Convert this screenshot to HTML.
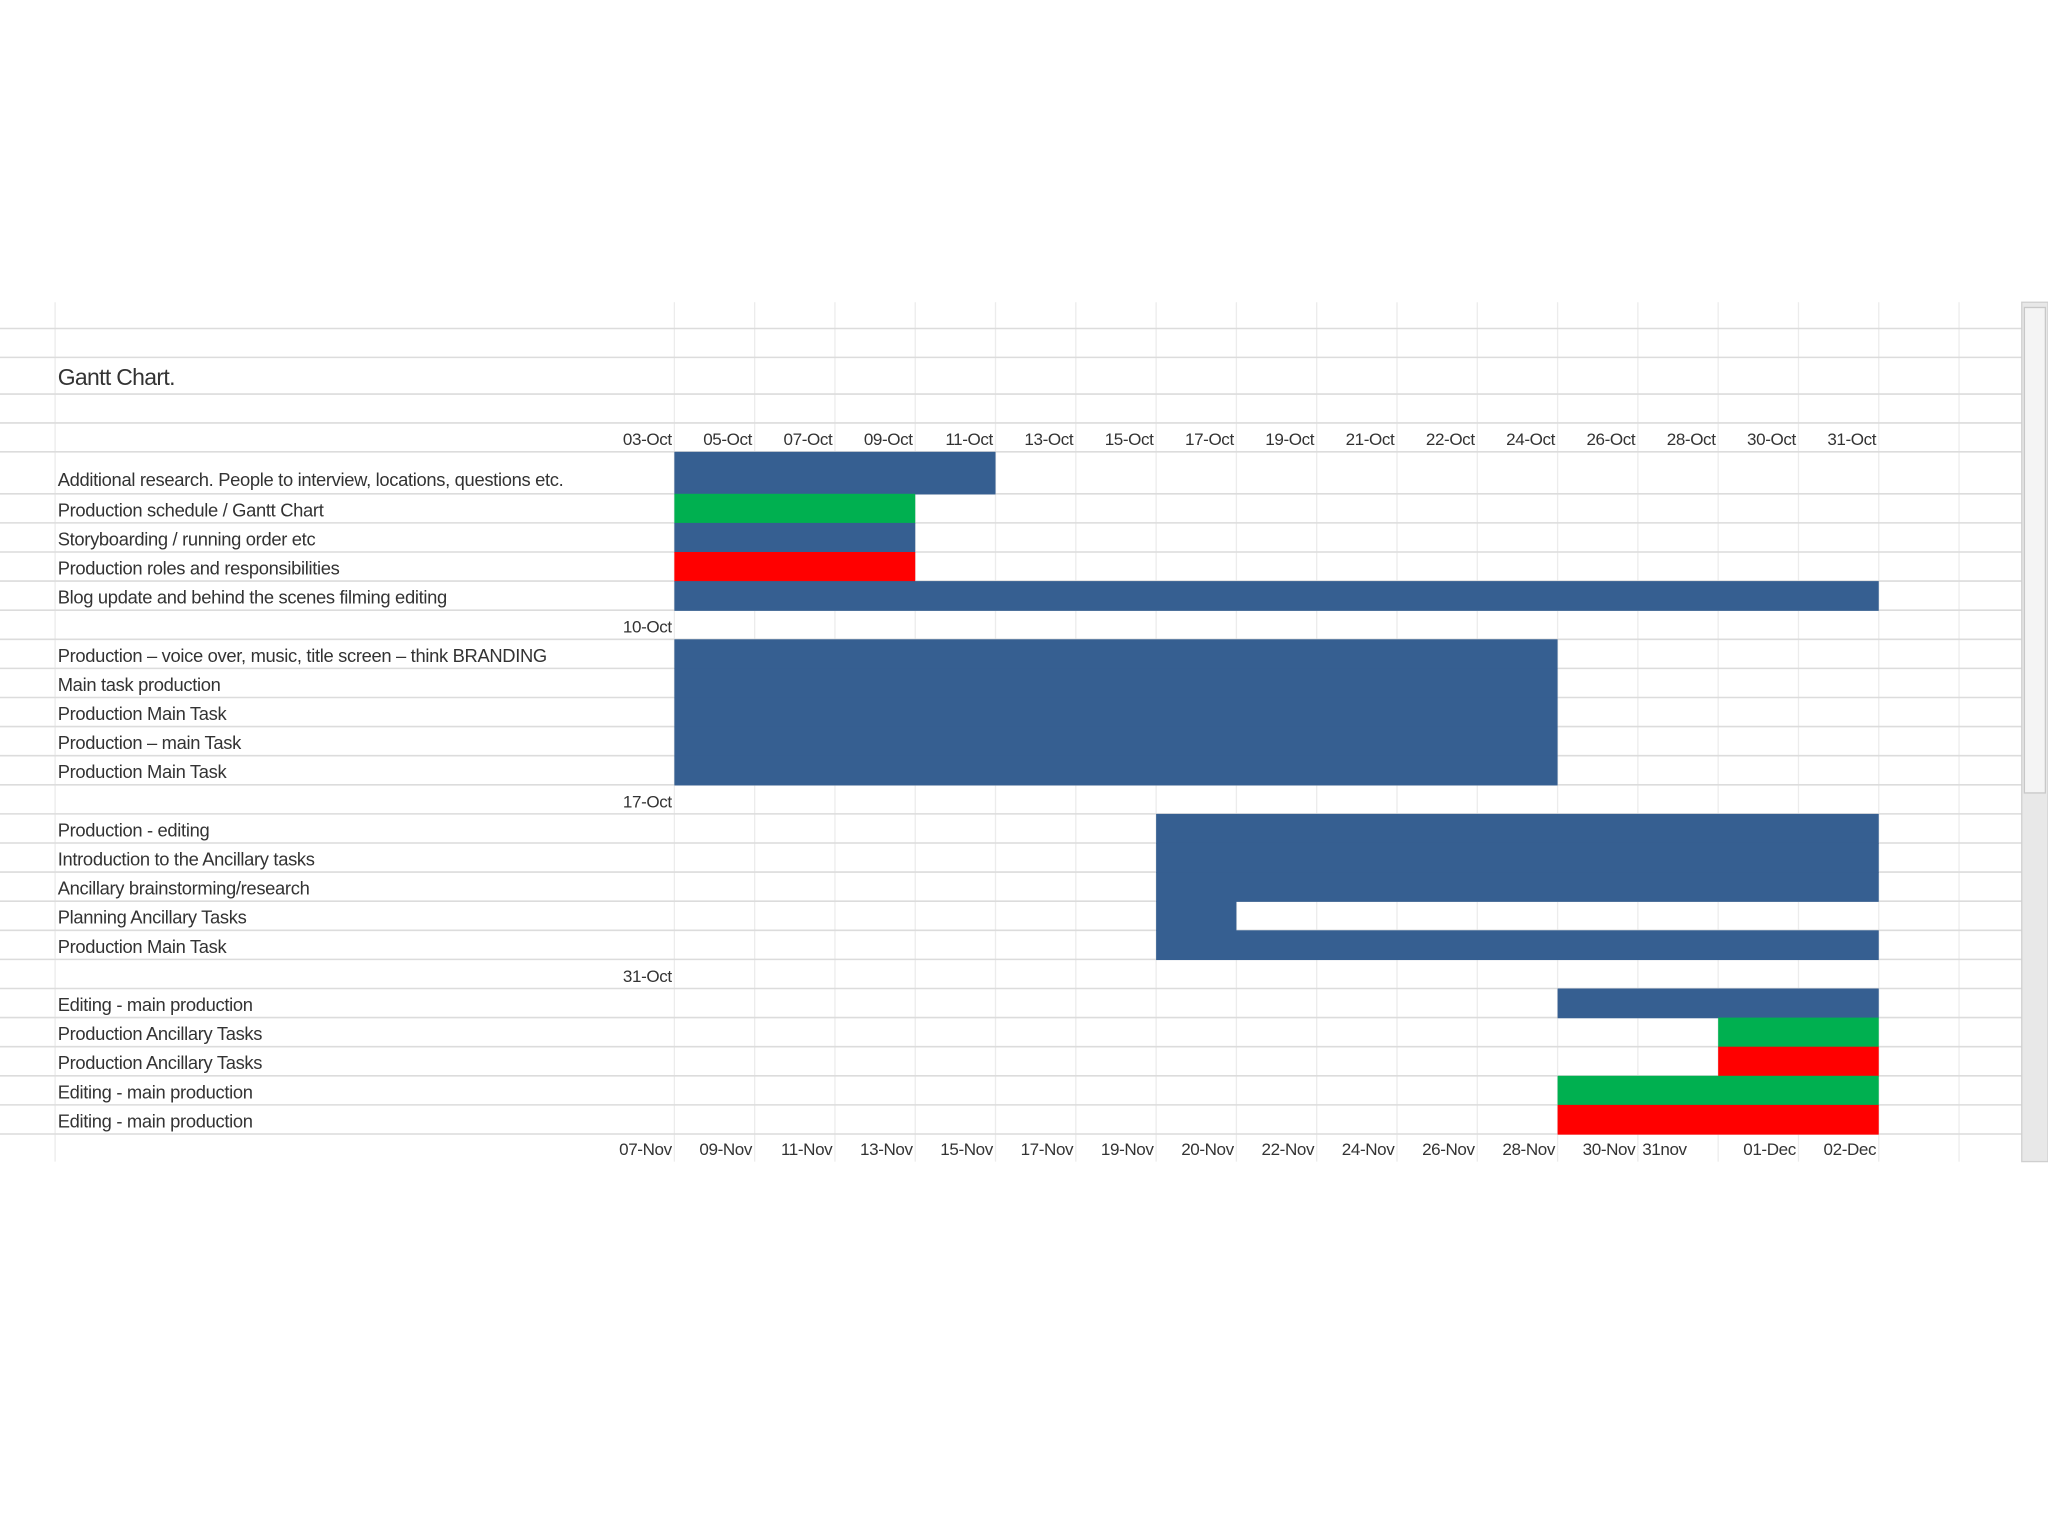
<!DOCTYPE html>
<html><head><meta charset="utf-8"><title>Gantt Chart</title>
<style>
html,body{margin:0;padding:0;background:#fff;}
svg{display:block;}
text{font-family:"Liberation Sans",sans-serif;fill:#333;}
</style></head>
<body>
<svg id="chart" width="2048" height="1536" viewBox="0 0 1561 1170" xmlns="http://www.w3.org/2000/svg">
<rect x="0" y="0" width="1561" height="1170" fill="#fff"/>
<g id="grid"></g>
<g id="bars"></g>
<g id="labels"></g>
<text x="44" y="293" font-size="17.5" letter-spacing="-0.5">Gantt Chart.</text>
<rect x="1541" y="230" width="20" height="655" fill="#e8e8e8" stroke="#cfcfcf"/>
<rect x="1543" y="234" width="16" height="370" fill="#f4f4f4" stroke="#c8c8c8"/>
</svg>
<script>
const topTicks = ["03-Oct","05-Oct","07-Oct","09-Oct","11-Oct","13-Oct","15-Oct","17-Oct","19-Oct","21-Oct","22-Oct","24-Oct","26-Oct","28-Oct","30-Oct","31-Oct"];
const bottomTicks = ["07-Nov","09-Nov","11-Nov","13-Nov","15-Nov","17-Nov","19-Nov","20-Nov","22-Nov","24-Nov","26-Nov","28-Nov","30-Nov","31nov","01-Dec","02-Dec"];
const rowLabels = ["Additional research. People to interview, locations, questions etc.","Production schedule / Gantt Chart","Storyboarding / running order etc","Production roles and responsibilities","Blog update and behind the scenes filming editing","","Production \u2013 voice over, music, title screen \u2013 think BRANDING","Main task production","Production Main Task","Production \u2013 main Task","Production Main Task","","Production - editing","Introduction to the Ancillary tasks","Ancillary brainstorming/research","Planning Ancillary Tasks","Production Main Task","","Editing  - main production","Production Ancillary Tasks","Production Ancillary Tasks","Editing  - main production","Editing  - main production"];
const sectionLabels = [[5,"10-Oct"],[11,"17-Oct"],[17,"31-Oct"]];
// bars: row index, start column, end column, colour key
const barRows   = [0,1,2,3,4,6,7,8,9,10,12,13,14,15,16,18,19,20,21,22];
const barStarts = [0,0,0,0,0,0,0,0,0,0,6,6,6,6,6,11,13,13,11,11];
const barEnds   = [4,3,3,3,15,11,11,11,11,11,15,15,15,7,15,15,15,15,15,15];
const barColors = ["b","g","b","r","b","b","b","b","b","b","b","b","b","b","b","b","g","r","g","r"];

const NS="http://www.w3.org/2000/svg";
const X0=514, COLW=61.2, ROW0=344, ROW0H=32, ROWH=22.18;
const colX = c => X0 + c*COLW;
const rowTop = r => r===0 ? ROW0 : ROW0+ROW0H+(r-1)*ROWH;
const rowH = r => r===0 ? ROW0H : ROWH;
const pal={b:"#365f91",g:"#00b050",r:"#ff0000"};
function mk(tag,attrs,parent){const e=document.createElementNS(NS,tag);for(const k in attrs)e.setAttribute(k,attrs[k]);parent.appendChild(e);return e;}
const grid=document.getElementById('grid'), bars=document.getElementById('bars'), labels=document.getElementById('labels');

[42].concat([...Array(17).keys()].map(colX)).forEach(x=>{
  const l=mk('line',{x1:x,y1:230,x2:x,y2:885,stroke:"#ececec","stroke-width":1},grid);
  
  
});
const hy=[250,272,300,322];
for(let r=0;r<=23;r++) hy.push(rowTop(r));
hy.forEach(y=>{
  const l=mk('line',{x1:0,y1:y,x2:1541,y2:y,stroke:"#dcdcdc","stroke-width":1.2},grid);
  
  
});
barRows.forEach((r,i)=>{
  const x1=colX(barStarts[i]), x2=colX(barEnds[i]);
  const b=mk('rect',{x:x1,y:rowTop(r),width:x2-x1,height:rowH(r)+0.5,fill:pal[barColors[i]]},bars);
  
  
});
topTicks.forEach((t,i)=>{
  const e=mk('text',{x:colX(i)-2,y:339,"font-size":13,"letter-spacing":-0.3,"text-anchor":"end"},labels);
  e.textContent=t;
  
  
});
bottomTicks.forEach((t,i)=>{
  let x=colX(i)-2;
  if(t==="31nov") x=colX(i)-24;
  const e=mk('text',{x:x,y:880,"font-size":13,"letter-spacing":-0.3,"text-anchor":"end"},labels);
  e.textContent=t;
  
  
});
rowLabels.forEach((t,r)=>{
  if(!t) return;
  const y = r===0 ? 370 : rowTop(r)+rowH(r)-5;
  const e=mk('text',{x:44,y:y,"font-size":14,"letter-spacing":-0.25},labels);
  e.textContent=t;
  
  
});
sectionLabels.forEach(([r,t])=>{
  const e=mk('text',{x:512,y:rowTop(r)+rowH(r)-5,"font-size":13,"letter-spacing":-0.3,"text-anchor":"end"},labels);
  e.textContent=t;
  
  
});
</script>
</body></html>
